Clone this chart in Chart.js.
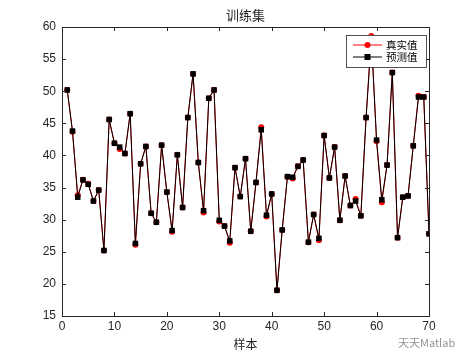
<!DOCTYPE html>
<html>
<head>
<meta charset="utf-8">
<script src="https://cdn.jsdelivr.net/npm/chart.js@4/dist/chart.umd.min.js"></script>
<style>
html,body{margin:0;padding:0;background:#fff;}
canvas{display:block;}
</style>
</head>
<body>
<canvas id="c" width="474" height="355"></canvas>
<script>
const samples = [1,2,3,4,5,6,7,8,9,10,11,12,13,14,15,16,17,18,19,20,21,22,23,24,25,26,27,28,29,30,31,32,33,34,35,36,37,38,39,40,41,42,43,44,45,46,47,48,49,50,51,52,53,54,55,56,57,58,59,60,61,62,63,64,65,66,67,68,69,70];
const trueVals = [50.2,43.7,33.8,36.2,35.6,32.9,34.6,25.2,45.6,41.9,41.0,40.3,46.5,26.1,38.7,41.4,31.0,29.6,41.6,34.3,28.1,40.1,31.9,45.9,52.7,38.9,31.1,48.9,50.2,29.7,29.0,26.4,38.1,33.6,39.5,28.2,35.8,44.4,30.5,34.0,19.0,28.4,36.7,36.4,38.3,39.3,26.5,30.8,26.8,43.1,36.5,41.3,29.9,36.8,32.2,33.2,30.6,45.9,58.6,42.2,32.7,38.5,52.9,27.2,33.5,33.7,41.5,49.3,49.1,27.8];
const predVals = [50.2,43.8,33.5,36.2,35.5,32.9,34.6,25.2,45.6,41.9,41.3,40.3,46.5,26.3,38.7,41.4,31.0,29.6,41.6,34.3,28.3,40.1,31.9,45.9,52.7,38.9,31.4,48.9,50.2,29.9,29.0,26.7,38.1,33.6,39.5,28.2,35.8,44.0,30.7,34.0,19.0,28.4,36.7,36.6,38.3,39.3,26.5,30.8,27.1,43.1,36.5,41.3,29.9,36.8,32.2,32.9,30.6,45.9,58.3,42.4,33.1,38.5,52.9,27.2,33.5,33.7,41.5,49.1,49.1,27.8];
const xTicks = [0,10,20,30,40,50,60,70];
const yTicks = [15,20,25,30,35,40,45,50,55,60];
const seriesNames = ['真实值','预测值'];
const titleText = '训练集';
const xTitle = '样本';

const axisColor = '#262626';

const boxPlugin = {
  id: 'matlabBox',
  afterDraw(chart) {
    const ctx = chart.ctx;
    const a = chart.chartArea;
    const xs = chart.scales.x, ys = chart.scales.y;
    ctx.save();
    // title
    ctx.fillStyle = axisColor;
    ctx.font = '13px "Noto Sans CJK SC", sans-serif';
    ctx.textAlign = 'center';
    ctx.textBaseline = 'middle';
    ctx.fillText(titleText, (a.left + a.right) / 2, 15);
    // box
    ctx.strokeStyle = axisColor;
    ctx.lineWidth = 1;
    ctx.strokeRect(Math.round(a.left) + 0.5, Math.round(a.top) + 0.5, Math.round(a.right - a.left), Math.round(a.bottom - a.top));
    // inward ticks
    const tl = 4;
    ctx.beginPath();
    xTicks.forEach(v => {
      const px = Math.round(xs.getPixelForValue(v)) + 0.5;
      ctx.moveTo(px, a.bottom); ctx.lineTo(px, a.bottom - tl);
      ctx.moveTo(px, a.top); ctx.lineTo(px, a.top + tl);
    });
    yTicks.forEach(v => {
      const py = Math.round(ys.getPixelForValue(v)) + 0.5;
      ctx.moveTo(a.left, py); ctx.lineTo(a.left + tl, py);
      ctx.moveTo(a.right, py); ctx.lineTo(a.right - tl, py);
    });
    ctx.stroke();
    // legend
    const lx = 346, ly = 35, lw = 80, lh = 32;
    ctx.fillStyle = '#fff';
    ctx.fillRect(lx, ly, lw, lh);
    ctx.strokeStyle = axisColor;
    ctx.lineWidth = 0.8;
    ctx.strokeRect(lx + 0.5, ly + 0.5, lw, lh);
    const rows = [
      {name: seriesNames[0], color: '#ff0000', style: 'circle', y: ly + 10},
      {name: seriesNames[1], color: '#000000', style: 'rect', y: ly + 22}
    ];
    rows.forEach(r => {
      ctx.strokeStyle = r.color;
      ctx.fillStyle = r.color;
      ctx.lineWidth = 1;
      ctx.beginPath();
      ctx.moveTo(lx + 7, r.y); ctx.lineTo(lx + 36, r.y);
      ctx.stroke();
      if (r.style === 'circle') {
        ctx.beginPath(); ctx.arc(lx + 21.5, r.y, 3, 0, Math.PI * 2); ctx.fill();
      } else {
        ctx.fillRect(lx + 18.5, r.y - 3, 6, 6);
      }
      ctx.fillStyle = '#000';
      ctx.font = '10.5px "Noto Sans CJK SC", sans-serif';
      ctx.textAlign = 'left';
      ctx.textBaseline = 'middle';
      ctx.fillText(r.name, lx + 40, r.y);
    });
    // watermark
    ctx.font = '11px "Noto Sans CJK SC", sans-serif';
    ctx.fillStyle = 'rgba(120,120,120,0.8)';
    ctx.textAlign = 'left';
    ctx.textBaseline = 'middle';
    ctx.fillText('天天Matlab', 398, 343);
    ctx.restore();
  }
};

new Chart(document.getElementById('c'), {
  type: 'line',
  data: {
    datasets: [
      {
        label: seriesNames[1],
        data: samples.map((s, i) => ({x: s, y: predVals[i]})),
        borderColor: '#000000',
        backgroundColor: '#000000',
        borderWidth: 1,
        pointStyle: 'rect',
        pointRadius: 3.9,
        pointBorderWidth: 0,
        order: 0
      },
      {
        label: seriesNames[0],
        data: samples.map((s, i) => ({x: s, y: trueVals[i]})),
        borderColor: '#ff0000',
        backgroundColor: '#ff0000',
        borderWidth: 1,
        pointStyle: 'circle',
        pointRadius: 3,
        pointBorderWidth: 0,
        order: 1
      }
    ]
  },
  options: {
    responsive: false,
    animation: false,
    devicePixelRatio: 1,
    layout: {padding: {top: 27, right: 45, left: 0, bottom: 0}},
    plugins: {
      legend: {display: false},
      title: {display: false},
      tooltip: {enabled: false}
    },
    scales: {
      x: {
        type: 'linear',
        min: 0, max: 70,
        afterBuildTicks: s => { s.ticks = xTicks.map(v => ({value: v})); },
        afterFit: s => { s.height = 39; },
        ticks: {color: axisColor, font: {size: 12, family: 'Arial, "Liberation Sans", sans-serif'}, padding: 3, maxRotation: 0},
        grid: {display: false, drawTicks: false},
        border: {display: false},
        title: {display: true, text: xTitle, color: axisColor, font: {size: 12, family: '"Noto Sans CJK SC", sans-serif'}, padding: {top: 0, bottom: 3}}
      },
      y: {
        type: 'linear',
        min: 15, max: 60,
        afterBuildTicks: s => { s.ticks = yTicks.map(v => ({value: v})); },
        afterFit: s => { s.width = 62; },
        ticks: {color: axisColor, font: {size: 12, family: 'Arial, "Liberation Sans", sans-serif'}, padding: 6},
        grid: {display: false, drawTicks: false},
        border: {display: false}
      }
    }
  },
  plugins: [boxPlugin]
});
</script>
</body>
</html>
